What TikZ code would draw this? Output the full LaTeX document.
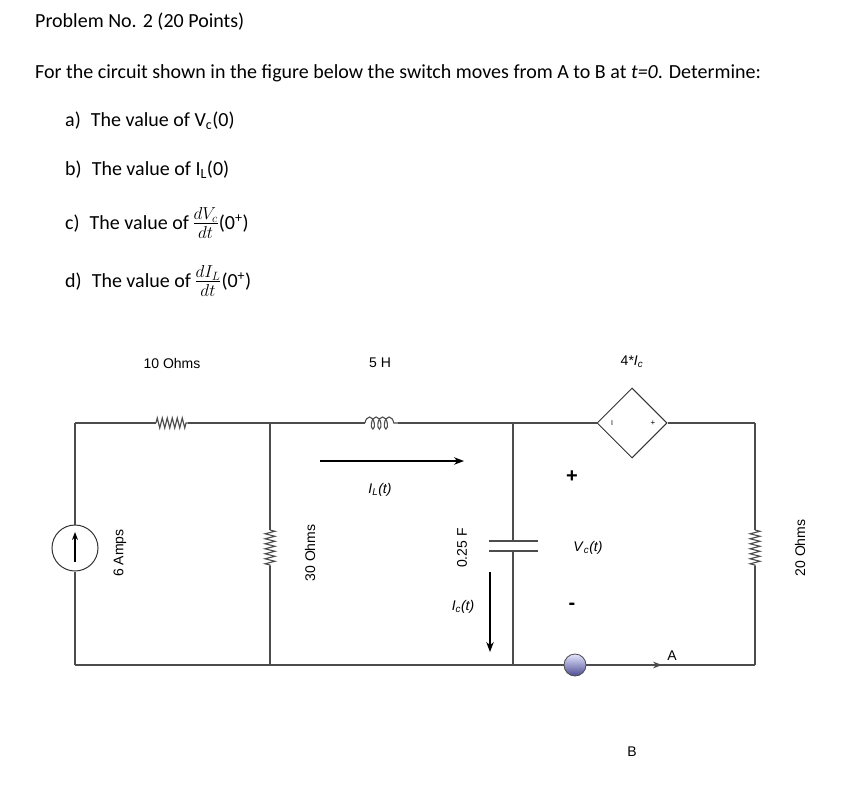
\documentclass[tikz,border=0pt]{standalone}
\usepackage{fontspec}
\setmainfont{Carlito}
\newfontfamily\arialf{Liberation Sans}
\usetikzlibrary{decorations.pathmorphing,arrows.meta,shapes.geometric}
\begin{document}
\begin{tikzpicture}[x=1pt,y=-1pt,
 wire/.style={draw=black!70,line width=1.1pt},
 lab/.style={font=\arialf\fontsize{14}{16}\selectfont},
 txt/.style={anchor=west,inner sep=0pt,font=\fontsize{20}{24}\selectfont},
 res/.style={wire,decorate,decoration={zigzag,segment length=5pt,amplitude=5pt}},
 ind/.style={wire,decorate,decoration={coil,aspect=0.5,segment length=6.5pt,amplitude=6pt}}]
\useasboundingbox (0,0) rectangle (857,790);
\node[txt] (t1) at (35,22) {Problem No. 2 (20 Points)};
\node[txt] (t2) at (35,73) {For the circuit shown in the figure below the switch moves from A to B at \textit{t=0}. Determine:};
\node[txt] (ta) at (65,121) {a)\enspace The value of V\textsubscript{c}(0)};
\node[txt] (tb) at (65,170) {b)\enspace The value of I\textsubscript{L}(0)};
\node[txt] (tc) at (65,223) {c)\enspace The value of\,{\fontsize{26}{28}\selectfont$\frac{dV_c}{dt}$}(0\textsuperscript{+})};
\node[txt] (td) at (65,281) {d)\enspace The value of\,{\fontsize{26}{28}\selectfont$\frac{dI_L}{dt}$}(0\textsuperscript{+})};
\coordinate (tl) at (75,423); \coordinate (bl) at (75,665);
\coordinate (t2) at (270,423); \coordinate (b2) at (270,665);
\coordinate (t3) at (513,423); \coordinate (b3) at (513,665);
\coordinate (tr) at (755,423); \coordinate (br) at (755,665);
\draw[wire] (tl) -- (156,423);
\draw[res] (156,423) -- (188,423);
\draw[wire] (188,423) -- (t2) -- (365,423);
\draw[ind] (365,423) -- (398,423);
\draw[wire] (398,423) -- (t3) -- (597,423);
\node[diamond,draw=black!80,line width=1pt,minimum width=70pt,minimum height=70pt,inner sep=0pt] (dep) at (632,423) {};
\node[font=\arialf\fontsize{7}{7}\selectfont] (dm) at (612,423) {I};
\node[font=\arialf\fontsize{8}{8}\selectfont] (dp) at (653,423) {+};
\draw[wire] (dep.east) -- (tr);
\node[circle,draw=black!80,line width=1pt,minimum size=46pt,inner sep=0pt] (src) at (75,548) {};
\draw[wire] (tl) -- (src.north); \draw[wire] (src.south) -- (bl);
\draw[-{Stealth[length=8pt]},line width=1.1pt] (75,562) -- (75,532);
\draw[wire] (t2) -- (270,530); \draw[res] (270,530) -- (270,566); \draw[wire] (270,566) -- (b2);
\draw[wire] (t3) -- (513,541); \draw[wire] (513,551) -- (b3);
\draw[wire] (489,541) -- (538,541); \draw[wire] (489,551) -- (538,551);
\draw[wire] (tr) -- (755,530); \draw[res] (755,530) -- (755,566); \draw[wire] (755,566) -- (br);
\draw[wire] (bl) -- (br);
\node[circle,draw=black!70,line width=0.8pt,minimum size=22pt,inner sep=0pt,shading=axis,top color=white!90!blue,bottom color=blue!40!black!70] (sw) at (575,665) {};
\draw[-{Stealth[length=9pt]},draw=black!70,line width=1.1pt] (sw) -- (662,665);
\draw[-{Stealth[length=10pt]},line width=1.1pt] (320,461) -- (464,461);
\draw[-{Stealth[length=10pt]},line width=1.1pt] (490,572) -- (490,652);
\node[lab] (l10) at (172,363) {10 Ohms};
\node[lab] (l5) at (380,363) {5 H};
\node[lab] (l4) at (632,362) {4*\textit{I}\textsubscript{\textit{c}}};
\node[lab] (lil) at (380,490) {\textit{I}\textsubscript{\textit{L}}\textit{(t)}};
\node[lab,rotate=90] (l6) at (120,553) {6 Amps};
\node[lab,rotate=90] (l30) at (310,553) {30 Ohms};
\node[lab,rotate=90] (l25) at (462,548) {0.25 F};
\node[lab] (lic) at (463,607) {\textit{I}\textsubscript{\textit{c}}\textit{(t)}};
\node[lab,font=\arialf\bfseries\fontsize{20}{20}\selectfont] (lp) at (572,477) {+};
\node[lab] (lvc) at (588,548) {\textit{V}\textsubscript{\textit{c}}\textit{(t)}};
\node[lab,font=\arialf\bfseries\fontsize{20}{20}\selectfont] (lm) at (572,606) {-};
\node[lab] (lA) at (672,656) {A};
\node[lab] (lB) at (632,752) {B};
\node[lab,rotate=90] (l20) at (800,548) {20 Ohms};
\end{tikzpicture}
\end{document}
